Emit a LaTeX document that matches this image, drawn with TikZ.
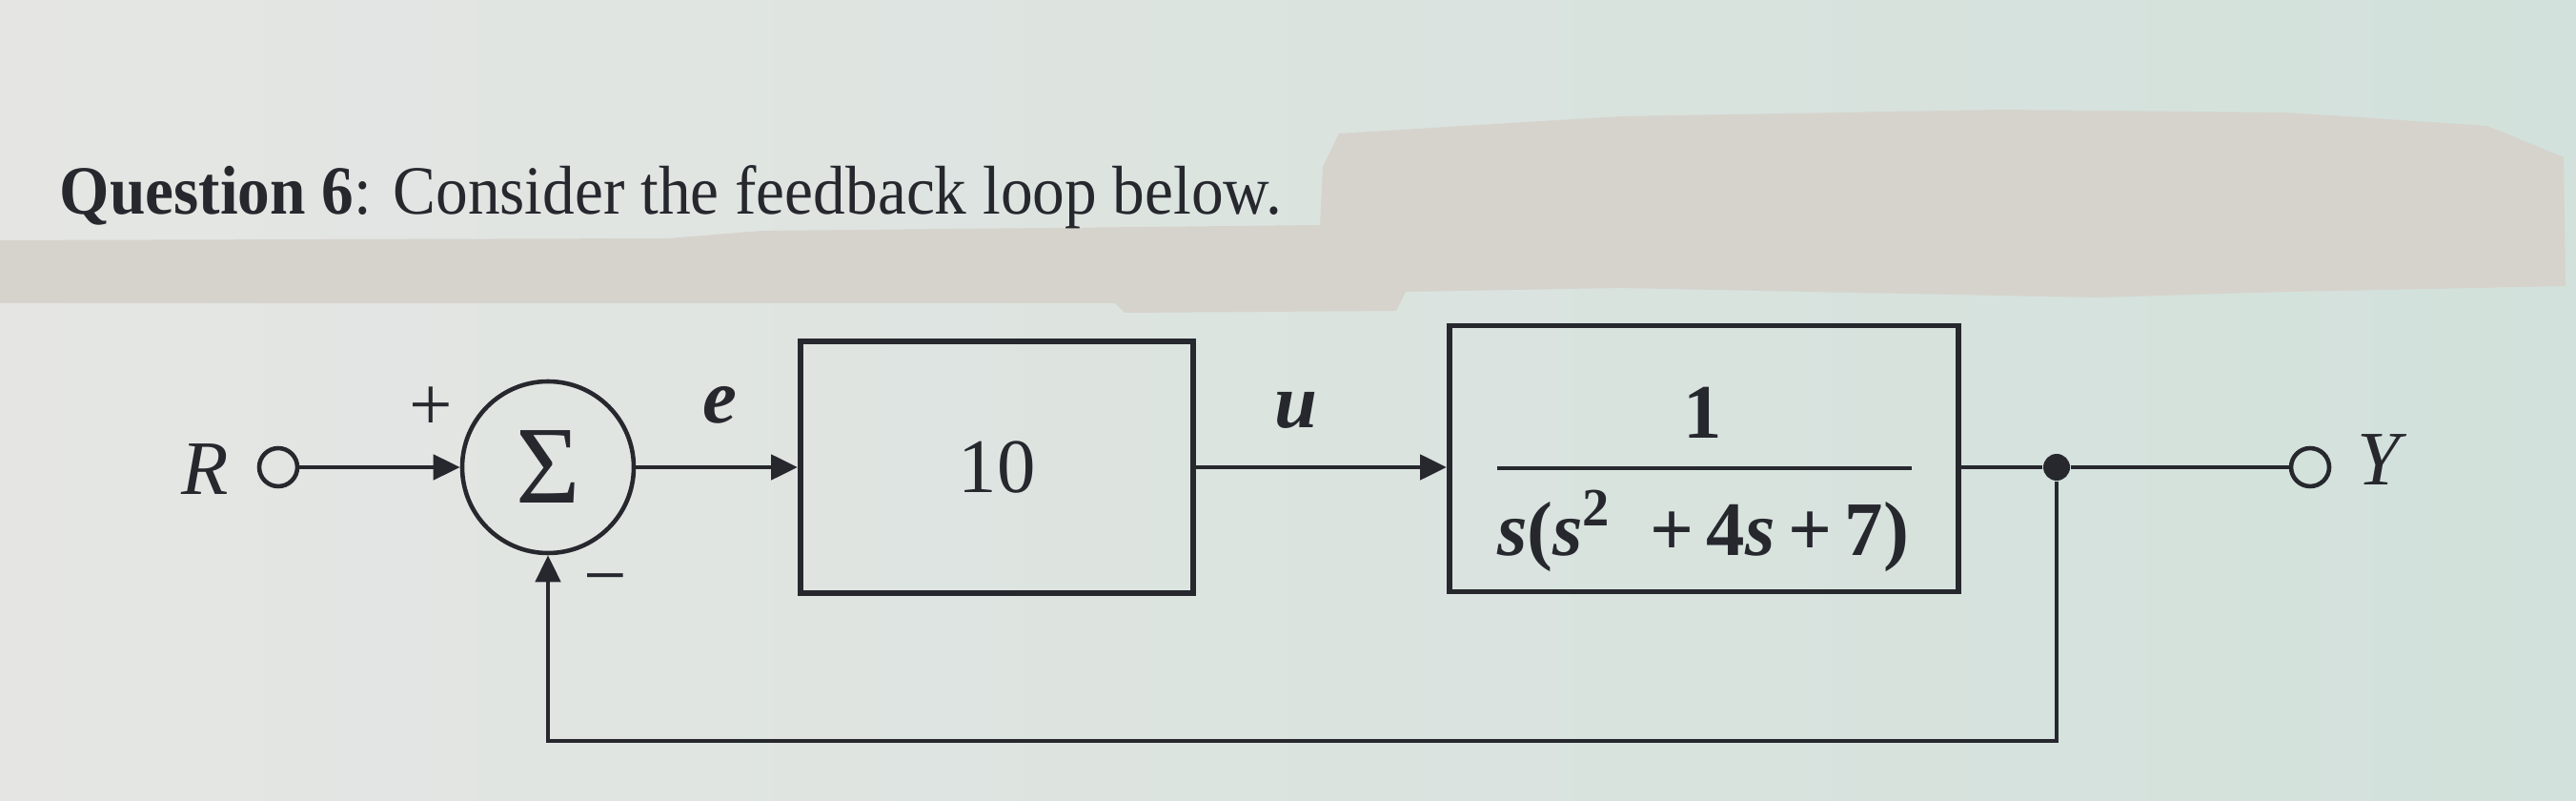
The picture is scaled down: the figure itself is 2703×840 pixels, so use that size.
\documentclass[tikz,border=0pt]{standalone}
\usepackage{fontspec}
\setmainfont{Liberation Serif}
\usetikzlibrary{positioning,arrows.meta,calc}
\definecolor{ink}{RGB}{38,40,46}
\definecolor{smear}{RGB}{214,211,205}
\definecolor{paperL}{RGB}{229,230,228}
\definecolor{paperR}{RGB}{210,225,219}

\begin{document}
\begin{tikzpicture}
        [x=0.1mm, y=-0.1mm,
        font=\fontsize{23}{26}\selectfont,
        every node/.style={text=ink, inner sep=0pt},
        blk/.style={rectangle, draw=ink, line width=1.7pt},
        port/.style={circle, draw=ink, line width=1.3pt, minimum size=4mm},
        wire/.style={draw=ink, line width=1.4pt},
        sig/.style={wire, -{Triangle[length=2.8mm,width=2.6mm]}},
        lbl/.style={font=\fontsize{23}{26}\selectfont\bfseries\itshape}]
        % paper and the smudge over the hidden lines
        \fill[left color=paperL, right color=paperR] (0,0) rectangle (2703,840);
        \useasboundingbox (0,0) rectangle (2703,840);
        \fill[smear] (-20,252) -- (700,250) -- (800,242) -- (1200,238)
            -- (1385,236) -- (1388,175) -- (1405,140) -- (1700,122) -- (2100,115)
            -- (2400,118) -- (2610,132) -- (2690,165) -- (2692,300) -- (2400,306)
            -- (2200,312) -- (1700,302) -- (1475,306) -- (1465,326) -- (1180,328)
            -- (1170,318) -- (-20,318) -- cycle;
        \node[anchor=base west, font=\fontsize{20.6}{24}\selectfont] (title) at (62,225)
            {\scalebox{0.93}[1]{\textbf{Question 6}: Consider the feedback loop below.}};
        % loop
        \node (rlab) at (215,492) {\textit{R}};
        \node[port] (rin) at (292,490) {};
        \node[circle, draw=ink, line width=1.3pt, minimum size=18mm] (sum) at (575,490)
            {\fontsize{33}{36}\selectfont Σ};
        \node (plus) at (452,429) {+};
        \node (minus) at (635,616) {−};
        \node[lbl] (elab) at (755,425) {e};
        \node[blk, minimum width=41.2mm, minimum height=26.4mm] (gain) at (1046,490) {10};
        \node[lbl] (ulab) at (1360,430) {u};
        \node[blk, minimum width=53.4mm, minimum height=27.9mm] (plant) at (1788,481) {};
        \node[font=\fontsize{23}{26}\selectfont\bfseries] (num) at (1787,433) {1};
        \node[font=\fontsize{23}{26}\selectfont\bfseries] (den) at (1787,557)
            {\textit{s}(\textit{s}\textsuperscript{2}\enspace+\,4\textit{s}\,+\,7)};
        \draw[draw=ink, line width=1.2pt] (1571,491) -- (2006,491);
        \node[circle, fill=ink, minimum size=2.8mm] (tap) at (2158,490) {};
        \node[port] (yout) at (2424,490) {};
        \node (ylab) at (2500,482) {\textit{Y}};
        \coordinate (fbR) at (2158,777);
        \coordinate (fbL) at (575,777);
        \draw[sig] (rin) -- (sum);
        \draw[sig] (sum) -- (gain);
        \draw[sig] (gain.east) -- (gain.east -| plant.west);
        \draw[wire] (plant.east |- tap) -- (tap) -- (yout);
        \draw[sig] (tap) -- (fbR) -- (fbL) -- (sum);
\end{tikzpicture}
\end{document}
